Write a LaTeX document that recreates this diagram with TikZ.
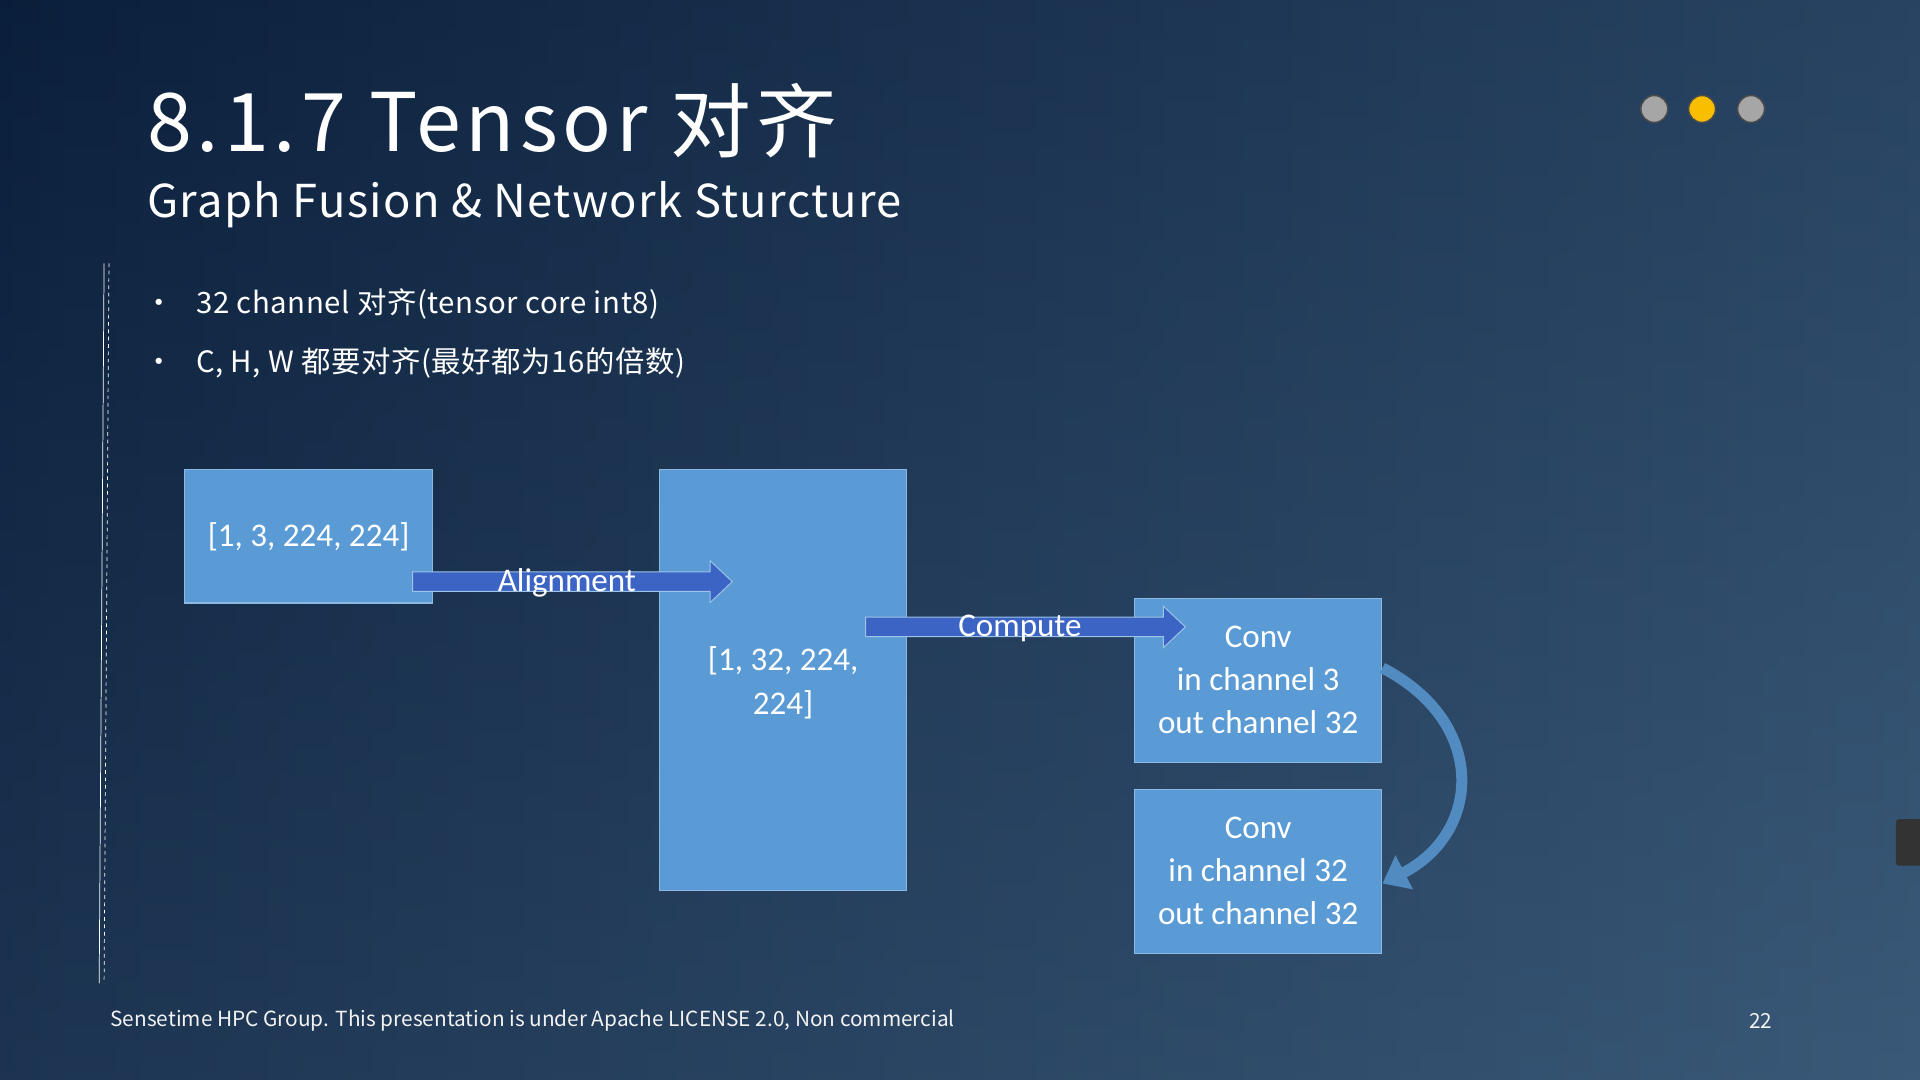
\documentclass[tikz,border=0pt]{standalone}
\usepackage{fontspec}
\setmainfont{Noto Sans CJK SC}
\newfontfamily\carl{Carlito}
\usetikzlibrary{arrows.meta}
\definecolor{boxblue}{HTML}{5B9BD5}
\definecolor{arrblue}{HTML}{3B64C4}
\begin{document}
\begin{tikzpicture}[x=1pt,y=-1pt,
  bx/.style={draw=boxblue!70!white,line width=1pt,fill=boxblue,text=white,font=\carl\fontsize{26}{36}\selectfont,align=center,anchor=north west},
  barrow/.style={draw=boxblue!60!white,fill=arrblue,line width=0.8pt},
  lbl/.style={text=white,font=\carl\fontsize{27}{30}\selectfont}]
\useasboundingbox (0,0) rectangle (1568,882);
\fill[left color={rgb,255:red,14;green,40;blue,76},right color={rgb,255:red,75;green,115;blue,155}] (0,0) rectangle (1568,882);
\fill[top color={rgb,255:red,14;green,40;blue,76},bottom color={rgb,255:red,72;green,110;blue,148},opacity=0.3] (0,0) rectangle (1568,882);
% title
\node[anchor=base west,text=white,font=\fontsize{66}{70}\selectfont\addfontfeature{LetterSpace=6},inner sep=0] (title) at (120,124) {8.1.7 Tensor 对齐};
\node[anchor=base west,text=white,font=\fontsize{37}{40}\selectfont\addfontfeature{LetterSpace=3},inner sep=0] (sub) at (120,178) {Graph Fusion \& Network Sturcture};
% dots
\foreach \n/\x/\c in {d1/1351/gray!70,d2/1390/{rgb,255:red,250;green,190;blue,0},d3/1430/gray!70}
  \node[circle,draw=black!70,line width=1.2pt,fill=\c,minimum size=22,inner sep=0] (\n) at (\x,89) {};
% side lines
\coordinate (la) at (85,215); \coordinate (lb) at (81,803);
\draw[white,line width=0.6pt] (la) -- (lb);
\draw[white,dashed,line width=0.6pt] ([xshift=4]la) -- ([xshift=4]lb);
% bullets
\node[anchor=base west,text=white,font=\fontsize{24}{28}\selectfont\addfontfeature{LetterSpace=2},inner sep=0] (b1) at (118,256) {•\hspace{18pt}32 channel 对齐(tensor core int8)};
\node[anchor=base west,text=white,font=\fontsize{24}{28}\selectfont\addfontfeature{LetterSpace=2},inner sep=0] (b2) at (118,304) {•\hspace{18pt}C, H, W 都要对齐(最好都为16的倍数)};
% boxes
\node[bx,minimum width=203,minimum height=109] (s1) at (150,383) {};
\node[lbl] at (s1.center) {[1, 3, 224, 224]};
\node[bx,minimum width=202,minimum height=344] (s2) at (538,383) {};
\node[lbl,align=center,font=\carl\fontsize{27}{36}\selectfont] at ([yshift=-2]s2.center) {[1, 32, 224,\\224]};
\node[bx,minimum width=202,minimum height=134] (c1) at (926,488) {};
\node[lbl,align=center,font=\carl\fontsize{27}{35}\selectfont] at (c1.center) {Conv\\in channel 3\\out channel 32};
\node[bx,minimum width=202,minimum height=134] (c2) at (926,644) {};
\node[lbl,align=center,font=\carl\fontsize{27}{35}\selectfont] at (c2.center) {Conv\\in channel 32\\out channel 32};
% arrows
\coordinate (a1) at (337,475);
\draw[barrow] (a1) ++(0,-8) -- ++(243,0) -- ++(0,-9) -- ++(18,17) -- ++(-18,17) -- ++(0,-9) -- ++(-243,0) -- cycle;
\node[lbl] at (463,476) {Alignment};
\coordinate (a2) at (707,512);
\draw[barrow] (a2) ++(0,-8) -- ++(243,0) -- ++(0,-9) -- ++(18,17) -- ++(-18,17) -- ++(0,-9) -- ++(-243,0) -- cycle;
\node[lbl] at (833,513) {Compute};
\draw[boxblue!90!black,line width=9pt,-{Triangle[width=30pt,length=20pt]}] ([yshift=10]c1.east) .. controls (1215,590) and (1210,680) .. ([yshift=-10]c2.east);
% footer
\node[anchor=base west,text=white!90!gray,font=\fontsize{17}{20}\selectfont,inner sep=0] (ft) at (90,838) {Sensetime HPC Group. This presentation is under Apache LICENSE 2.0, Non commercial};
\node[anchor=base,text=white!90!gray,font=\fontsize{17}{20}\selectfont,inner sep=0] (pg) at (1438,840) {22};
\node[fill=black!80,rounded corners=3pt,minimum width=22,minimum height=38,inner sep=0,anchor=west] (tab) at (1548,688) {};
\end{tikzpicture}
\end{document}
